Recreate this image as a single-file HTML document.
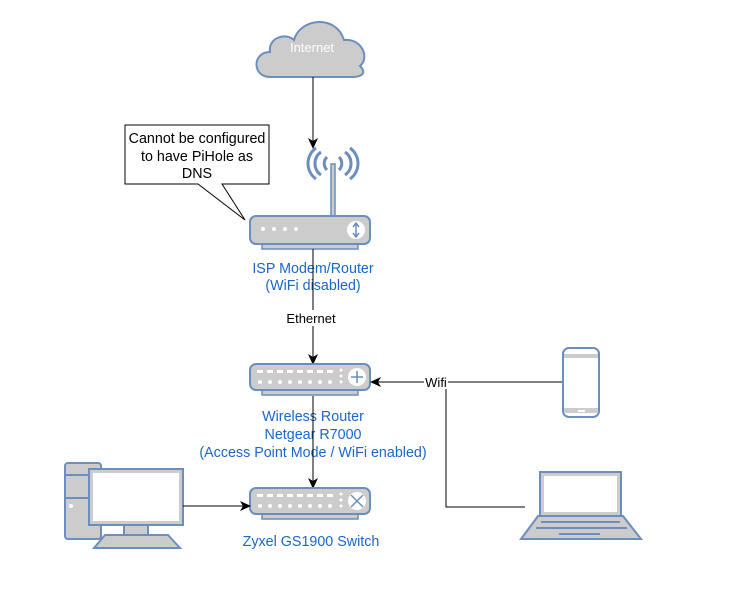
<!DOCTYPE html>
<html><head><meta charset="utf-8"><style>
body{margin:0;background:#fff}
svg text{font-family:"Liberation Sans",sans-serif;font-size:14.3px}
</style></head><body>
<svg width="741" height="596" viewBox="0 0 741 596" xmlns="http://www.w3.org/2000/svg">
<defs><marker id="a" markerWidth="12" markerHeight="12" refX="10" refY="6" orient="auto" markerUnits="userSpaceOnUse"><path d="M0,1 L11,6 L0,11 L3,6 Z" fill="#000"/></marker></defs>
<!-- cloud -->
<path d="M270,77 C252,77 252,52 270,52 C268,38 285,32 294,40 C300,18 336,14 344,40 C362,38 370,58 360,66 C368,74 360,77 352,77 Z" fill="#cccccc" stroke="#6c8ebf" stroke-width="2"/>
<text x="312" y="52" fill="#fff" text-anchor="middle" style="font-size:13px">Internet</text>
<line x1="313" y1="77" x2="313" y2="148" stroke="#000" marker-end="url(#a)"/>
<!-- callout -->
<path d="M125,125 H269 V184 H222 L245,220 L198,184 H125 Z" fill="#fff" stroke="#000"/>
<text x="197" y="143" text-anchor="middle">Cannot be configured</text>
<text x="197" y="161" text-anchor="middle">to have PiHole as</text>
<text x="197" y="178" text-anchor="middle">DNS</text>
<!-- modem antenna -->
<g fill="none" stroke="#6c8ebf" stroke-width="3">
<path d="M327,157 a9,9 0 0 0 0,13"/><path d="M321,152 a14,14 0 0 0 0,23"/><path d="M316,148 a19,19 0 0 0 0,31"/>
<path d="M339,157 a9,9 0 0 1 0,13"/><path d="M345,152 a14,14 0 0 1 0,23"/><path d="M350,148 a19,19 0 0 1 0,31"/>
</g>
<rect x="331" y="164" width="4" height="52" fill="#cccccc" stroke="#6c8ebf" stroke-width="1.5"/>
<rect x="262" y="243" width="96" height="6" fill="#cccccc" stroke="#6c8ebf" stroke-width="1.5"/>
<rect x="250" y="216" width="120" height="28" rx="6" fill="#cccccc" stroke="#6c8ebf" stroke-width="2"/>
<g fill="#fff"><circle cx="263" cy="229" r="2"/><circle cx="274" cy="229" r="2"/><circle cx="285" cy="229" r="2"/><circle cx="296" cy="229" r="2"/><circle cx="356" cy="230" r="9"/></g>
<path d="M356,224 V236 M353,227 L356,223 L359,227 M353,233 L356,237 L359,233" stroke="#6c8ebf" stroke-width="1.5" fill="none"/>
<text x="313" y="273" fill="#1a66cc" text-anchor="middle">ISP Modem/Router</text>
<text x="313" y="290" fill="#1a66cc" text-anchor="middle">(WiFi disabled)</text>
<line x1="313" y1="249" x2="313" y2="364" stroke="#000" marker-end="url(#a)"/>
<rect x="283" y="310" width="60" height="16" fill="#fff"/>
<text x="311" y="323" text-anchor="middle" style="font-size:13px">Ethernet</text>
<!-- router -->
<rect x="262" y="389" width="96" height="6" fill="#cccccc" stroke="#6c8ebf" stroke-width="1.5"/>
<rect x="250" y="364" width="120" height="26" rx="6" fill="#cccccc" stroke="#6c8ebf" stroke-width="2"/>
<g fill="#fff">
<rect x="257" y="370" width="6" height="3"/><rect x="267" y="370" width="6" height="3"/><rect x="277" y="370" width="6" height="3"/><rect x="287" y="370" width="6" height="3"/><rect x="297" y="370" width="6" height="3"/><rect x="307" y="370" width="6" height="3"/><rect x="317" y="370" width="6" height="3"/><rect x="327" y="370" width="6" height="3"/>
<circle cx="260" cy="382" r="2"/><circle cx="270" cy="382" r="2"/><circle cx="280" cy="382" r="2"/><circle cx="290" cy="382" r="2"/><circle cx="300" cy="382" r="2"/><circle cx="310" cy="382" r="2"/><circle cx="320" cy="382" r="2"/><circle cx="330" cy="382" r="2"/>
<circle cx="341" cy="370" r="1.5"/><circle cx="341" cy="376" r="1.5"/><circle cx="341" cy="382" r="1.5"/>
<circle cx="357" cy="377" r="9"/></g>
<path d="M357,371 V383 M351,377 H363" stroke="#6c8ebf" stroke-width="1.5"/>
<text x="313" y="421" fill="#1a66cc" text-anchor="middle">Wireless Router</text>
<text x="313" y="439" fill="#1a66cc" text-anchor="middle">Netgear R7000</text>
<text x="313" y="457" fill="#1a66cc" text-anchor="middle">(Access Point Mode / WiFi enabled)</text>
<line x1="313" y1="396" x2="313" y2="488" stroke="#000" marker-end="url(#a)"/>
<!-- switch -->
<rect x="262" y="513" width="96" height="6" fill="#cccccc" stroke="#6c8ebf" stroke-width="1.5"/>
<rect x="250" y="488" width="120" height="26" rx="6" fill="#cccccc" stroke="#6c8ebf" stroke-width="2"/>
<g fill="#fff">
<rect x="257" y="494" width="6" height="3"/><rect x="267" y="494" width="6" height="3"/><rect x="277" y="494" width="6" height="3"/><rect x="287" y="494" width="6" height="3"/><rect x="297" y="494" width="6" height="3"/><rect x="307" y="494" width="6" height="3"/><rect x="317" y="494" width="6" height="3"/><rect x="327" y="494" width="6" height="3"/>
<circle cx="260" cy="506" r="2"/><circle cx="270" cy="506" r="2"/><circle cx="280" cy="506" r="2"/><circle cx="290" cy="506" r="2"/><circle cx="300" cy="506" r="2"/><circle cx="310" cy="506" r="2"/><circle cx="320" cy="506" r="2"/><circle cx="330" cy="506" r="2"/>
<circle cx="341" cy="494" r="1.5"/><circle cx="341" cy="500" r="1.5"/><circle cx="341" cy="506" r="1.5"/>
<circle cx="357" cy="501" r="9"/></g>
<path d="M351,495 L363,507 M363,495 L351,507" stroke="#6c8ebf" stroke-width="1.5"/>
<text x="311" y="546" fill="#1a66cc" text-anchor="middle">Zyxel GS1900 Switch</text>
<!-- PC -->
<rect x="65" y="463" width="36" height="76" rx="3" fill="#cccccc" stroke="#6c8ebf" stroke-width="2"/>
<line x1="65" y1="475" x2="88" y2="475" stroke="#6c8ebf" stroke-width="2"/>
<line x1="65" y1="498" x2="88" y2="498" stroke="#6c8ebf" stroke-width="2"/>
<circle cx="71" cy="506" r="2" fill="#fff"/>
<rect x="89" y="469" width="94" height="56" fill="#cccccc" stroke="#6c8ebf" stroke-width="2"/>
<rect x="93" y="473" width="86" height="48" fill="#fff"/>
<rect x="124" y="525" width="24" height="10" fill="#cccccc" stroke="#6c8ebf" stroke-width="2"/>
<path d="M105,535 H168 L180,548 H94 Z" fill="#cccccc" stroke="#6c8ebf" stroke-width="2"/>
<line x1="183" y1="506" x2="250" y2="506" stroke="#000" marker-end="url(#a)"/>
<!-- phone -->
<rect x="563" y="348" width="36" height="69" rx="6" fill="#fff" stroke="#6c8ebf" stroke-width="2"/>
<rect x="564" y="354" width="34" height="4" fill="#cccccc"/>
<rect x="564" y="408" width="34" height="5" fill="#cccccc"/>
<rect x="578" y="410" width="7" height="2" fill="#fff"/>
<line x1="562" y1="382" x2="371" y2="382" stroke="#000" marker-end="url(#a)"/>
<polyline points="525,507 446,507 446,382" fill="none" stroke="#000"/>
<rect x="424" y="375" width="24" height="14" fill="#fff"/>
<text x="436" y="387" text-anchor="middle" style="font-size:13px">Wifi</text>
<!-- laptop -->
<rect x="540" y="472" width="81" height="44" fill="#cccccc" stroke="#6c8ebf" stroke-width="2"/>
<rect x="544" y="476" width="73" height="36" fill="#fff"/>
<path d="M538,516 H623 L641,539 H521 Z" fill="#cccccc" stroke="#6c8ebf" stroke-width="2"/>
<g stroke="#6c8ebf" stroke-width="2"><line x1="541" y1="522" x2="620" y2="522"/><line x1="536" y1="528" x2="627" y2="528"/><line x1="559" y1="534" x2="600" y2="534"/></g>
</svg>
</body></html>
